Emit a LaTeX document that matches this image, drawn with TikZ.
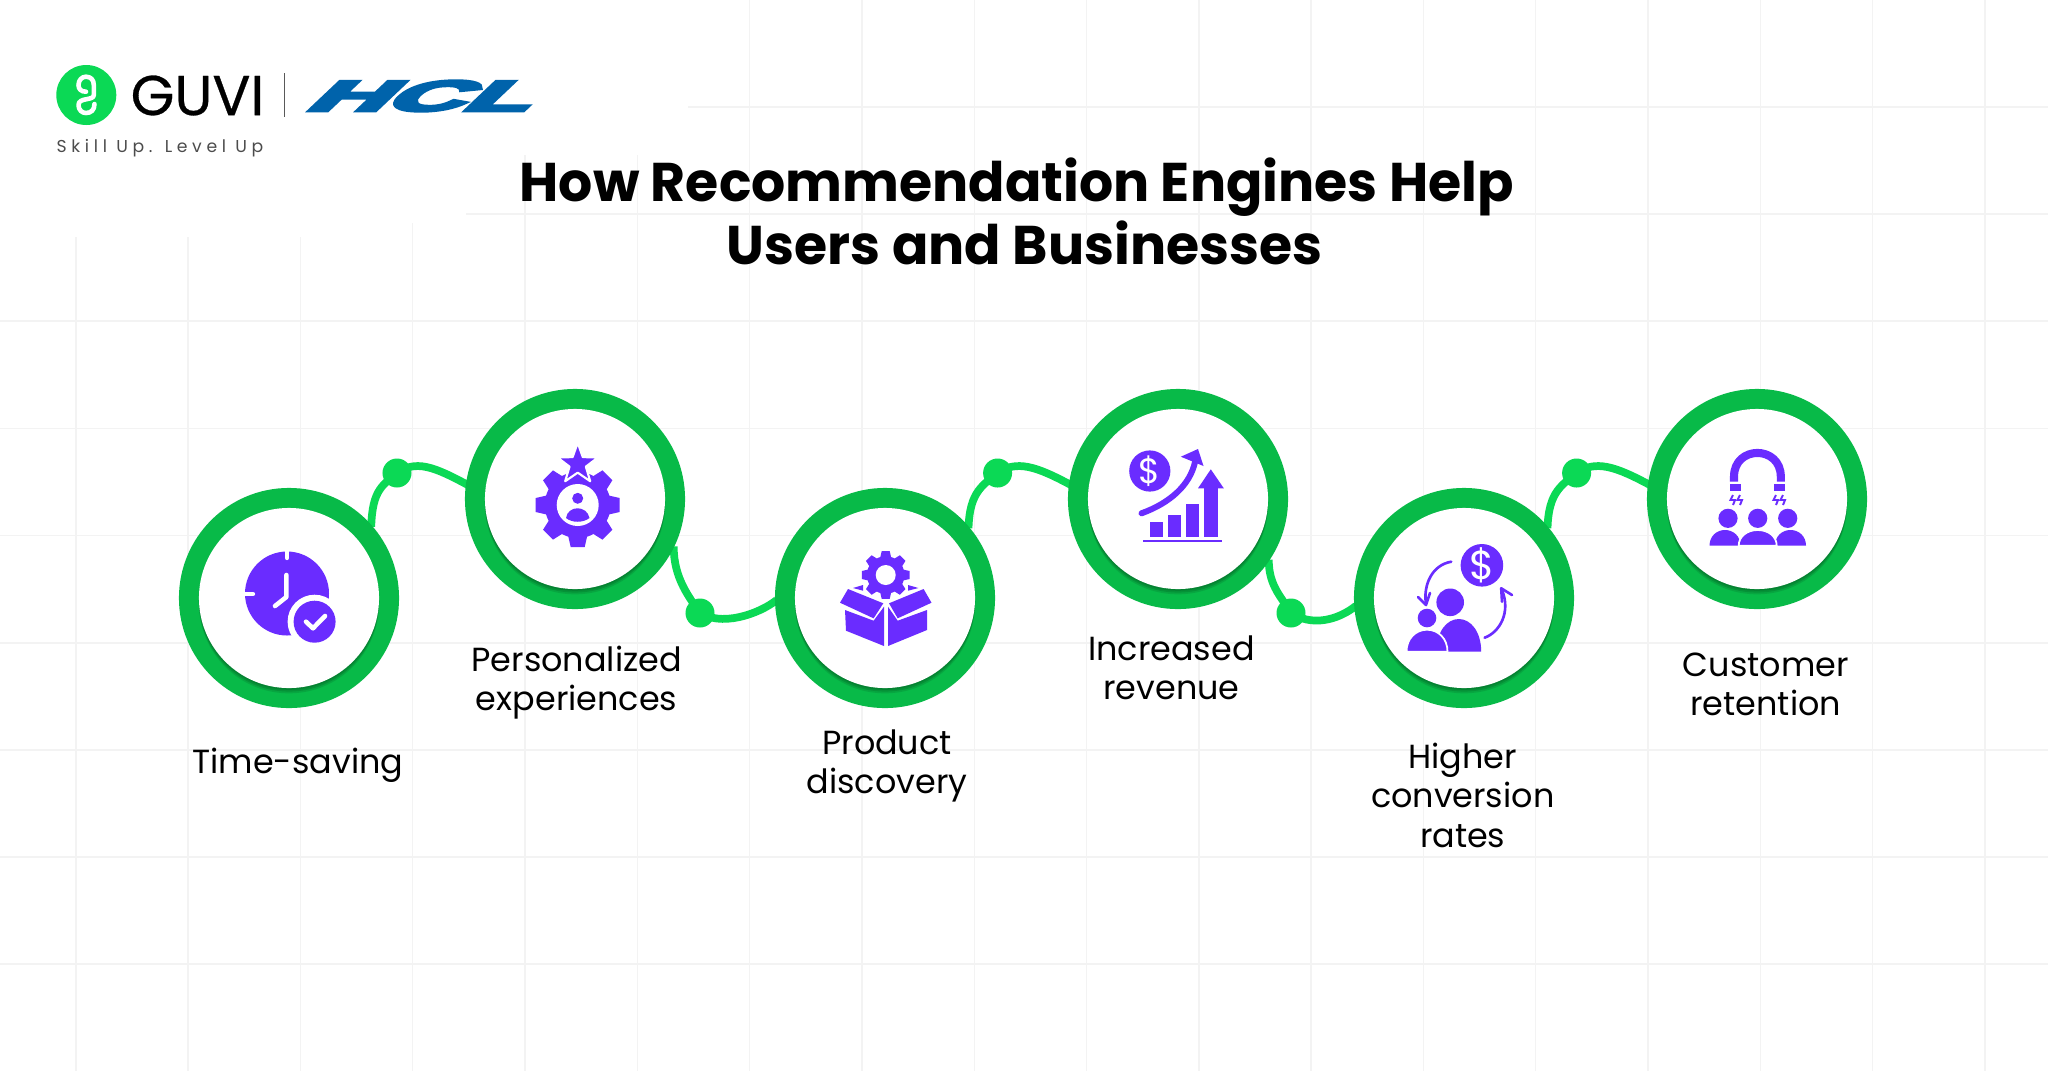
\documentclass[tikz,border=0pt]{standalone}
\usepackage{fontspec}
\usetikzlibrary{shadows,backgrounds}
\setmainfont{Poppins}
\newfontfamily\titlefont[FakeStretch=0.985]{Poppins}
\newfontfamily\guvifont[FakeBold=.5]{Poppins}
\newfontfamily\tagfont[LetterSpace=27]{Poppins}
\newfontfamily\hclfont[BoldFeatures={FakeBold=7}]{Liberation Sans}
\definecolor{ringgreen}{HTML}{08BA48}
\definecolor{linkgreen}{HTML}{0BD955}
\definecolor{shadegreen}{HTML}{045A22}
\definecolor{iconpurple}{HTML}{6A2CFF}
\definecolor{hclblue}{HTML}{0063AB}
\definecolor{gridgray}{HTML}{F3F3F3}
\newcommand{\domeshape}[5][fill=iconpurple]{\path[#1] (#2-#4,#3) .. controls (#2-#4,#3-0.6*#5) and (#2-0.55*#4,#3-#5) .. (#2,#3-#5) .. controls (#2+0.55*#4,#3-#5) and (#2+#4,#3-0.6*#5) .. (#2+#4,#3) -- cycle;}
\tikzset{
  ringnode/.style={circle,fill=ringgreen,inner sep=0pt,minimum size=2.2cm},
  discnode/.style={circle,fill=white,inner sep=0pt,minimum size=1.8cm,
    general shadow={fill=shadegreen,opacity=.27,shadow yshift=-.5pt},
    general shadow={fill=shadegreen,opacity=.27,shadow yshift=-1pt},
    general shadow={fill=shadegreen,opacity=.2,shadow yshift=-1.5pt}},
  jointdot/.style={circle,fill=linkgreen,inner sep=0pt,minimum size=.29cm},
  link/.style={draw=linkgreen,line width=2.2pt,shorten <=-.8pt,shorten >=-.8pt},
  itemlabel/.style={align=center,inner sep=0pt,font=\fontsize{9.5}{11.1}\selectfont},
  titleline/.style={inner sep=0pt,anchor=base,font=\titlefont\bfseries\fontsize{15.5}{17.5}\selectfont},
  gridline/.style={draw=gridgray,line width=.4pt},
  icon/.style={fill=iconpurple},
  whiteline/.style={draw=white,line cap=round,line join=round},
  purpleline/.style={draw=iconpurple,line width=.75pt,line cap=round,line join=round},
  gearpic/.pic={
    \fill[icon] (0,0) circle (33);
    \foreach \a in {0,45,...,315}
      \fill[icon,rotate=\a] (-9.5,-31) -- (-7,-42) -- (7,-42) -- (9.5,-31) -- cycle;
  }
}
\begin{document}
\begin{tikzpicture}[x=0.01cm,y=-0.01cm]
  \useasboundingbox (0,0) rectangle (2048,1075);

  % steps
  \node[ringnode] (c1) at (289,598) {};
  \node[discnode] (c1in) at (c1) {};
  \node[ringnode] (c2) at (575,499) {};
  \node[discnode] (c2in) at (c2) {};
  \node[ringnode] (c3) at (885,598) {};
  \node[discnode] (c3in) at (c3) {};
  \node[ringnode] (c4) at (1178,499) {};
  \node[discnode] (c4in) at (c4) {};
  \node[ringnode] (c5) at (1464,598) {};
  \node[discnode] (c5in) at (c5) {};
  \node[ringnode] (c6) at (1757,499) {};
  \node[discnode] (c6in) at (c6) {};

  \node[jointdot] (d1) at (397,473) {};
  \node[jointdot] (d2) at (700,613) {};
  \node[jointdot] (d3) at (997.6,473) {};
  \node[jointdot] (d4) at (1291,613) {};
  \node[jointdot] (d5) at (1576.6,473) {};

  \begin{scope}[on background layer]
    \fill[white] (0,0) rectangle (2048,1075);
    % grid
    \draw[gridline] (0,107)--(2048,107);
    \draw[gridline] (0,214)--(2048,214);
    \draw[gridline] (0,321)--(2048,321);
    \draw[gridline] (0,428.5)--(2048,428.5);
    \draw[gridline] (0,535.7)--(2048,535.7);
    \draw[gridline] (0,643)--(2048,643);
    \draw[gridline] (0,750)--(2048,750);
    \draw[gridline] (0,857)--(2048,857);
    \draw[gridline] (0,964)--(2048,964);
    \draw[gridline] (75.8,0)--(75.8,1071);
    \draw[gridline] (188,0)--(188,1071);
    \draw[gridline] (300.4,0)--(300.4,1071);
    \draw[gridline] (412.7,0)--(412.7,1071);
    \draw[gridline] (525,0)--(525,1071);
    \draw[gridline] (637.3,0)--(637.3,1071);
    \draw[gridline] (749.6,0)--(749.6,1071);
    \draw[gridline] (861.9,0)--(861.9,1071);
    \draw[gridline] (974.2,0)--(974.2,1071);
    \draw[gridline] (1086.5,0)--(1086.5,1071);
    \draw[gridline] (1198.8,0)--(1198.8,1071);
    \draw[gridline] (1311,0)--(1311,1071);
    \draw[gridline] (1423.4,0)--(1423.4,1071);
    \draw[gridline] (1535.7,0)--(1535.7,1071);
    \draw[gridline] (1648,0)--(1648,1071);
    \draw[gridline] (1760.3,0)--(1760.3,1071);
    \draw[gridline] (1872.6,0)--(1872.6,1071);
    \draw[gridline] (1984.9,0)--(1984.9,1071);
    % white patch behind the logo
    \fill[white] (0,0) rectangle (688,108);
    \fill[white] (0,108) rectangle (466,215);
    \fill[white] (0,215) rectangle (400,237);
    \fill[white] (400,215) rectangle (520,223);
    \fill[white] (466,108) rectangle (688,155);
    % connectors
    \draw[link] (c1.42) .. controls +(1,-35) and +(-14,12) .. (d1.center);
    \draw[link] (d1.center) .. controls +(18,-15) and +(-30,-16) .. (c2.172);
    \draw[link] (c2.333) .. controls +(0,30) and +(-10,-15) .. (d2.center);
    \draw[link] (d2.center) .. controls +(20,15) and +(-15,12) .. (c3.182);
    \draw[link] (c3.41) .. controls +(1,-35) and +(-14,12) .. (d3.center);
    \draw[link] (d3.center) .. controls +(18,-15) and +(-30,-16) .. (c4.172);
    \draw[link] (c4.325) .. controls +(0,25) and +(-8,-15) .. (d4.center);
    \draw[link] (d4.center) .. controls +(20,15) and +(-15,12) .. (c5.185);
    \draw[link] (c5.41) .. controls +(1,-35) and +(-14,12) .. (d5.center);
    \draw[link] (d5.center) .. controls +(18,-15) and +(-30,-16) .. (c6.172);
  \end{scope}

  % logo
  \fill[linkgreen] (86.3,95) circle (30);
  \draw[whiteline,line width=1.3pt] (86,91.7) .. controls (81,91.7) and (78.5,89) .. (78.5,85) .. controls (78.5,80) and (82,76.7) .. (86,76.7) .. controls (91,76.7) and (93.8,80) .. (93.8,85) -- (93.8,95) .. controls (93.8,101) and (78.5,97) .. (78.5,105) .. controls (78.5,110) and (82,113) .. (86,113) .. controls (91,113) and (94.5,110) .. (94.5,104);
  \node[inner sep=0pt,anchor=west,font=\guvifont\fontsize{16}{17}\selectfont] (guvi) at (130,95.5) {GUVI};
  \draw[black!65,line width=.35pt] (284.3,73.3)--(284.3,117.3);
  \begin{scope}[shift={(430,96)},xscale=2.52,xslant=.42]
    \node[transform shape,inner sep=0pt,text=hclblue,font=\hclfont\bfseries\fontsize{12.2}{13}\selectfont] (hcl) at (0,0) {HCL};
  \end{scope}
  \node[inner sep=0pt,anchor=west,text=black!70,font=\tagfont\fontsize{4.9}{6}\selectfont] (tag) at (56,148.5) {Skill Up. Level Up};

  % title
  \node[titleline] (title1) at (1016.7,201.7) {How Recommendation Engines Help};
  \node[titleline] (title2) at (1024.6,264) {Users and Businesses};

  % labels
  \node[itemlabel] (lab1) at (297.8,765) {Time-saving};
  \node[itemlabel] (lab2) at (576.6,683) {Personalized\\experiences};
  \node[itemlabel] (lab3) at (887,765.7) {Product\\discovery};
  \node[itemlabel] (lab4) at (1171.5,667.7) {Increased\\revenue};
  \node[itemlabel] (lab5) at (1462.7,795.4) {Higher\\conversion\\rates};
  \node[itemlabel] (lab6) at (1765.7,684) {Customer\\retention};

  % clock
  \fill[icon] (287,593.5) circle (42);
  \draw[whiteline,line width=1.2pt] (287,550)--(287,558);
  \draw[whiteline,line width=1.2pt] (244,594)--(253,594);
  \draw[whiteline,line width=1.3pt] (286.4,575)--(286.4,597)--(275,606);
  \fill[white] (314.6,621.7) circle (27);
  \fill[icon] (314.6,621.7) circle (21);
  \draw[whiteline,line width=1.3pt] (306,621.7)--(313,628.3)--(325,616);

  % gear and star
  \pic at (577.7,505) {gearpic};
  \fill[white] (577.7,505) circle (21);
  \fill[icon] (577.7,498.3) circle (5.5);
  \fill[icon] (566,518) .. controls (568,505) and (587,505) .. (589.5,518) .. controls (583,523) and (572,523) .. (566,518);
  \begin{scope}[shift={(577.7,464)},scale=1.15]
    \filldraw[fill=iconpurple,draw=white,line width=.6pt,line join=round] (0,-18.5)--(4.4,-6)--(17.6,-5.7)--(7.1,2.3)--(10.9,15)--(0,7.5)--(-10.9,15)--(-7.1,2.3)--(-17.6,-5.7)--(-4.4,-6)--cycle;
  \end{scope}

  % box
  \pic[scale=.57] at (885.7,575) {gearpic};
  \fill[white] (885.7,575) circle (10);
  \fill[icon] (840,602.7)--(848,589)--(883.3,603.3)--(873.6,618.3)--cycle;
  \fill[icon] (931.5,602.7)--(923.6,589)--(889,603.3)--(897.7,618.3)--cycle;
  \fill[icon] (845,610)--(873.6,620.7)--(884,606.7)--(884,646)--(846,630.7)--cycle;
  \fill[icon] (888,606.7)--(897.7,620.7)--(927,610)--(927,630)--(888,646)--cycle;
  \fill[icon] (853,588)--(863,585)--(863,590.7)--cycle;
  \fill[icon] (908,585)--(918.4,588)--(908,590.7)--cycle;

  % chart
  \fill[icon] (1149.8,471) circle (20.6);
  \node[text=white,inner sep=0pt,font=\fontsize{10}{11}\selectfont] (dollar1) at (1149.8,471) {\$};
  \draw[purpleline,line width=1.7pt] (1141.5,513.3) .. controls (1170,503) and (1190,485) .. (1195,462);
  \fill[icon] (1198,449)--(1180.8,456.7)--(1203.5,466)--cycle;
  \fill[icon] (1149.5,522.3) rectangle (1163,537.3);
  \fill[icon] (1167.7,515) rectangle (1180.8,537.3);
  \fill[icon] (1186,504) rectangle (1199.4,537.3);
  \fill[icon] (1204,488) rectangle (1218,537.3);
  \fill[icon] (1210.8,469.3)--(1198,488.3)--(1223.8,488.3)--cycle;
  \draw[iconpurple,line width=.55pt] (1143,541)--(1221.8,541);

  % people and money
  \fill[icon] (1481.9,565.3) circle (21.3);
  \node[text=white,inner sep=0pt,font=\fontsize{11.5}{12}\selectfont] (dollar2) at (1481.9,565.3) {\$};
  \fill[icon] (1450.2,602.3) circle (13.8);
  \domeshape{1458.8}{651.7}{22.4}{32.7}
  \fill[white] (1427,618) circle (11);
  \fill[icon] (1427,618) circle (9.3);
  \domeshape[fill=iconpurple,draw=white,line width=.5pt]{1427}{651.7}{20.5}{22}
  \draw[purpleline] (1451.2,561.7) .. controls (1432,565) and (1423,585) .. (1426,604);
  \draw[purpleline] (1418,597)--(1426,605)--(1430,593);
  \draw[purpleline] (1484.6,637.7) .. controls (1500,632) and (1511,612) .. (1502,590);
  \draw[purpleline] (1502,601.7)--(1501.2,588.3)--(1512,595);

  % magnet and people
  \draw[iconpurple,line width=2.3pt] (1734,481.7) -- (1734,476.7) .. controls (1734,445) and (1780.8,445) .. (1780.8,476.7) -- (1780.8,481.7);
  \fill[icon] (1730,484) rectangle (1741,491);
  \fill[icon] (1774,484) rectangle (1785,491);
  \draw[iconpurple,line width=.55pt] (1733,495)--(1730.5,500)--(1735,500)--(1733,505);
  \draw[iconpurple,line width=.55pt] (1740,495)--(1737.5,500)--(1742,500)--(1740,505);
  \draw[iconpurple,line width=.55pt] (1776,495)--(1773.5,500)--(1778,500)--(1776,505);
  \draw[iconpurple,line width=.55pt] (1783,495)--(1780.5,500)--(1785,500)--(1783,505);
  \fill[icon] (1728,518.3) circle (9.6);
  \fill[icon] (1757.7,518.3) circle (9.6);
  \fill[icon] (1787.7,518.3) circle (9.6);
  \domeshape{1725}{545.7}{15.5}{15.7}
  \domeshape{1790.5}{545.7}{15.5}{15.7}
  \domeshape[fill=iconpurple,draw=white,line width=.5pt]{1757.7}{545.7}{19}{15.7}
\end{tikzpicture}
\end{document}
